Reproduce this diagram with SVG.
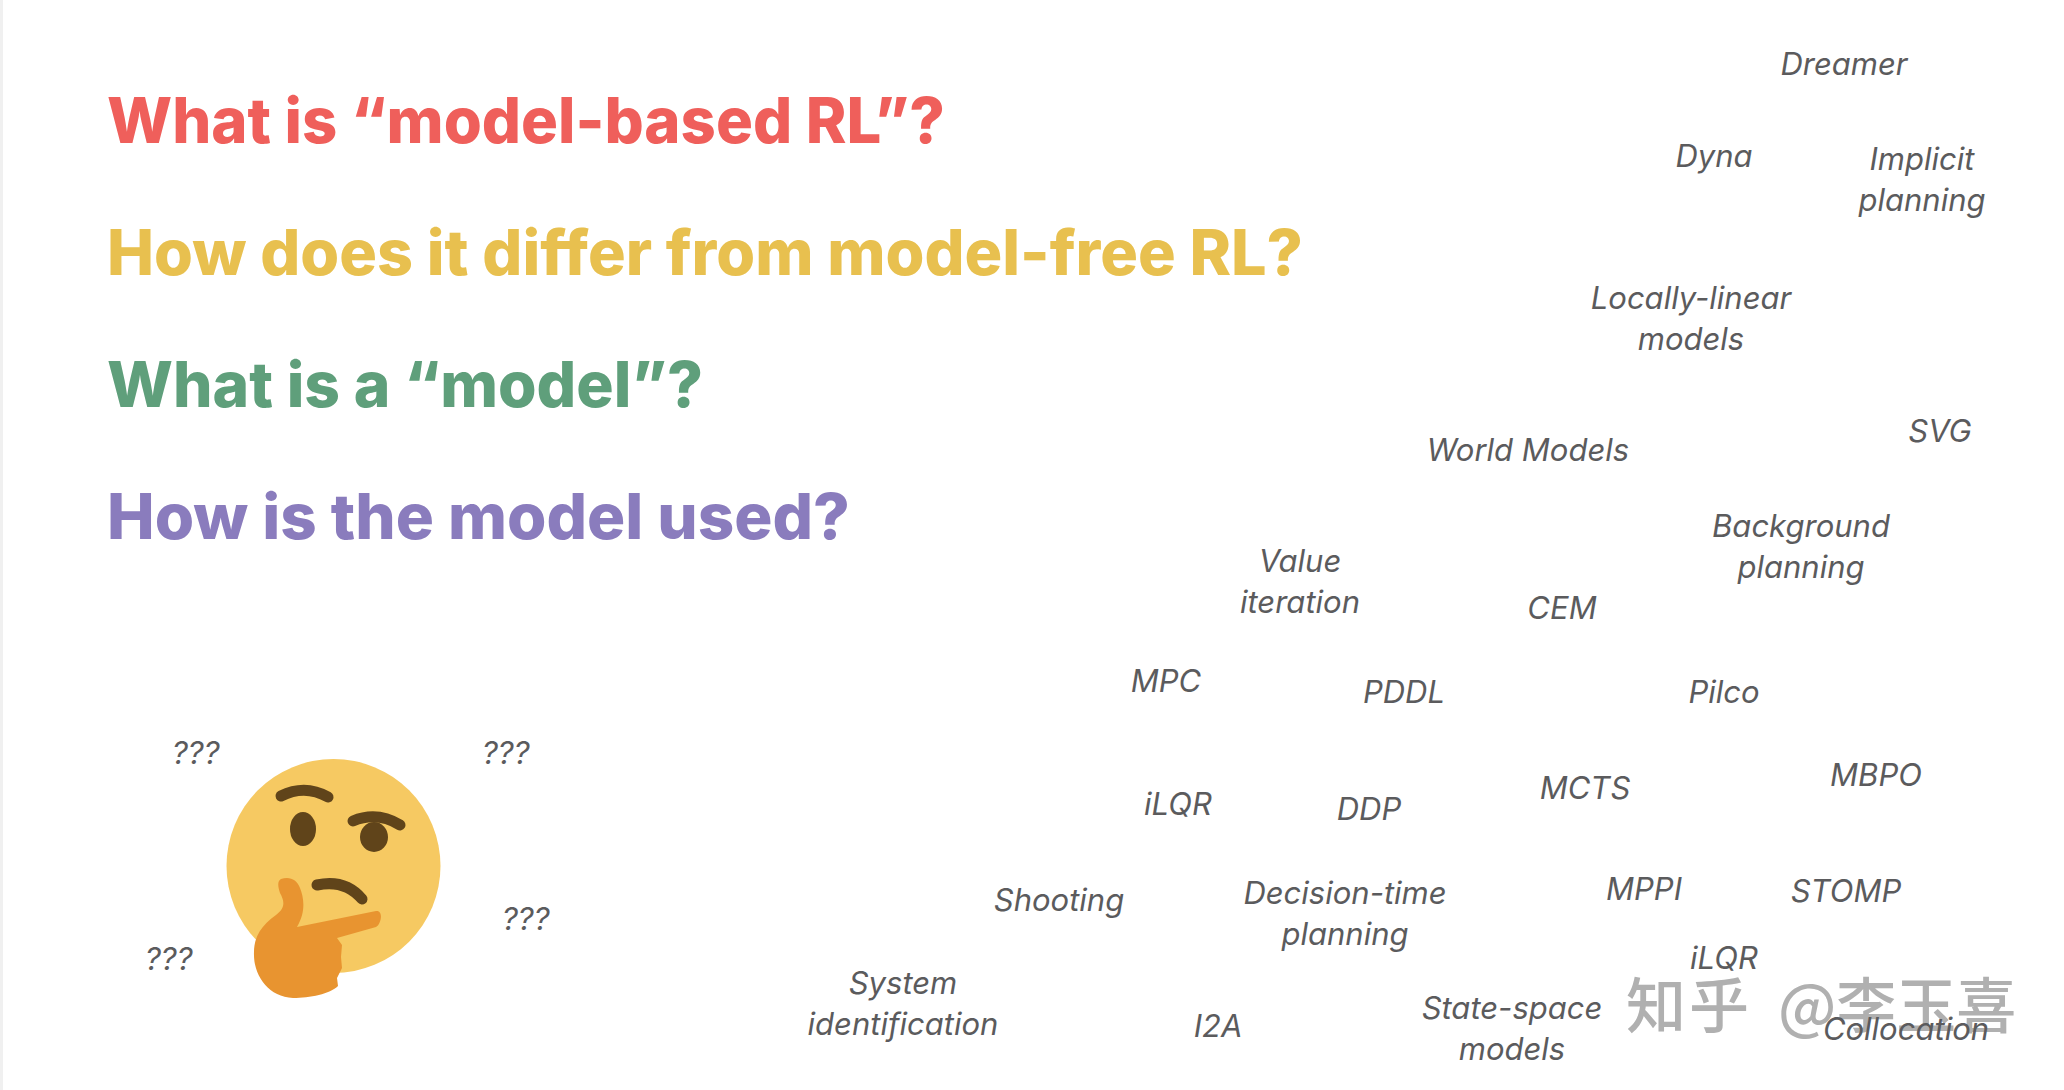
<svg xmlns="http://www.w3.org/2000/svg" width="2064" height="1090" viewBox="0 0 2064 1090">
<style>
.h{font-family:"Inter","Lato","Liberation Sans",sans-serif;font-weight:800;font-size:63px}
.t{font-family:"Inter","Lato","Liberation Sans",sans-serif;font-style:italic;font-size:31px;fill:#5b5b5d;text-anchor:middle}
.q{font-family:"Inter","Lato","Liberation Sans",sans-serif;font-style:italic;font-size:31px;fill:#5b5b5d}
.w{font-family:"Noto Sans CJK SC",sans-serif;font-size:60px;fill:#b0b0b0;font-weight:500}
.d{fill:#60441a}
.s{fill:none;stroke:#60441a;stroke-width:11;stroke-linecap:round}
</style>
<rect width="2064" height="1090" fill="#fff"/>
<rect width="3" height="1090" fill="#f0f0f0"/>
<g id="questions">
<text class="h" x="107" y="143" fill="#ef5f5b" textLength="838" lengthAdjust="spacingAndGlyphs">What is “model-based RL”?</text>
<text class="h" x="107" y="275" fill="#e8c04f" textLength="1196" lengthAdjust="spacingAndGlyphs">How does it differ from model-free RL?</text>
<text class="h" x="107" y="407" fill="#5f9f7b" textLength="596" lengthAdjust="spacingAndGlyphs">What is a “model”?</text>
<text class="h" x="107" y="539" fill="#8a7cbd" textLength="743" lengthAdjust="spacingAndGlyphs">How is the model used?</text>
</g>
<g id="emoji">
<ellipse cx="333.5" cy="866" rx="107" ry="107" fill="#f6c962"/>
<path class="s" d="M281 796Q305 784 328 797"/>
<ellipse class="d" cx="303" cy="829" rx="13" ry="17"/>
<ellipse class="d" cx="374" cy="837" rx="14" ry="15"/>
<path class="s" d="M353 821Q377 811 400 825"/>
<path class="s" d="M317 885Q345 879 362 899"/>
<path fill="#e89430" d="M281 879C289 876 297 879 300 888C304 898 306 912 297 927L376 911C384 910 381 925 376 927L337 938L342 945L341 957L342 968L337 978L338 986C330 994 310 998 293 998C268 997 253 975 254 952C254 936 262 925 276 915C285 908 285 902 280 893C278 887 277 881 281 879Z"/>
</g>
<g id="qmarks">
<text class="q" x="172" y="764">???</text>
<text class="q" x="482" y="764">???</text>
<text class="q" x="502" y="930">???</text>
<text class="q" x="145" y="970">???</text>
</g>
<g id="watermark"><text class="w" x="1626" y="1028" letter-spacing="3">知乎</text><text class="w" x="1778" y="1028">@李玉喜</text></g>
<g id="terms">
<text class="t" x="1844" y="75">Dreamer</text>
<text class="t" x="1714" y="167">Dyna</text>
<text class="t" x="1922" y="170">Implicit</text>
<text class="t" x="1922" y="211">planning</text>
<text class="t" x="1691" y="309">Locally-linear</text>
<text class="t" x="1691" y="350">models</text>
<text class="t" x="1940" y="442">SVG</text>
<text class="t" x="1528" y="461">World Models</text>
<text class="t" x="1801" y="537">Background</text>
<text class="t" x="1801" y="578">planning</text>
<text class="t" x="1300" y="572">Value</text>
<text class="t" x="1300" y="613">iteration</text>
<text class="t" x="1562" y="619">CEM</text>
<text class="t" x="1166" y="692">MPC</text>
<text class="t" x="1404" y="703">PDDL</text>
<text class="t" x="1724" y="703">Pilco</text>
<text class="t" x="1178" y="815">iLQR</text>
<text class="t" x="1369" y="820">DDP</text>
<text class="t" x="1585" y="799">MCTS</text>
<text class="t" x="1876" y="786">MBPO</text>
<text class="t" x="1059" y="911">Shooting</text>
<text class="t" x="1345" y="904">Decision-time</text>
<text class="t" x="1345" y="945">planning</text>
<text class="t" x="1644" y="900">MPPI</text>
<text class="t" x="1846" y="902">STOMP</text>
<text class="t" x="1724" y="969">iLQR</text>
<text class="t" x="903" y="994">System</text>
<text class="t" x="903" y="1035">identification</text>
<text class="t" x="1218" y="1037">I2A</text>
<text class="t" x="1512" y="1019">State-space</text>
<text class="t" x="1512" y="1060">models</text>
<text class="t" x="1906" y="1040">Collocation</text>
</g>
</svg>
